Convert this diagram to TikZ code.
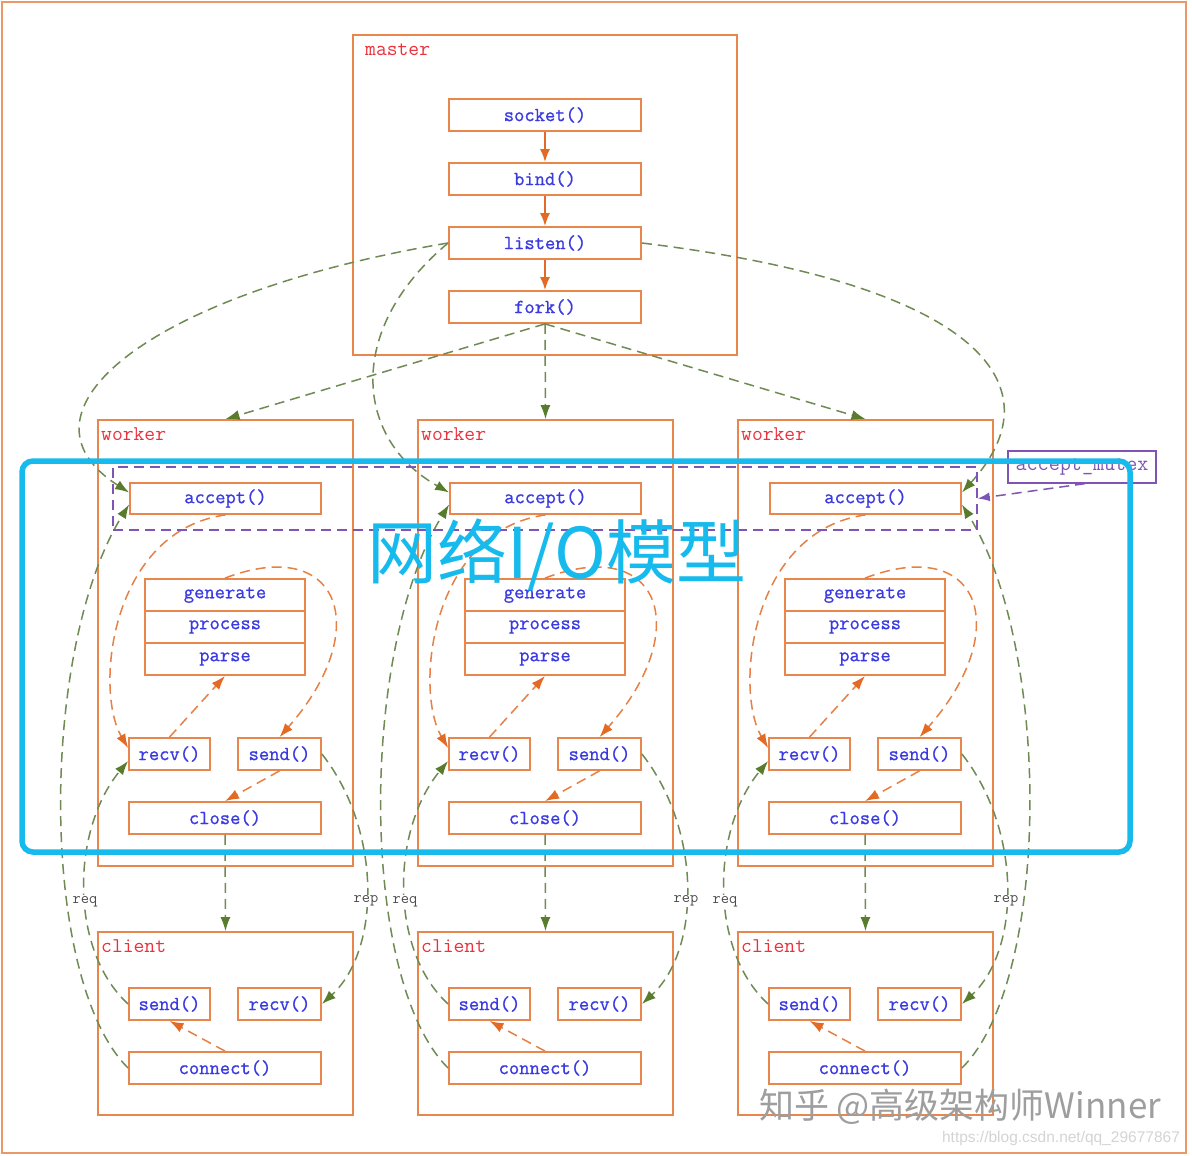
\documentclass[tikz,border=0pt]{standalone}
\usepackage{fontspec}
\newfontfamily\cjk{Noto Sans CJK SC}
\newfontfamily\wmfont{Liberation Sans}
\newfontfamily\fnmono{Latin Modern Mono}[FakeBold=0.9]
\usetikzlibrary{arrows.meta}
\definecolor{boxor}{RGB}{232,134,76}
\definecolor{arror}{RGB}{226,106,36}
\definecolor{gline}{RGB}{112,138,84}
\definecolor{ghead}{RGB}{88,124,44}
\definecolor{lblred}{RGB}{236,48,60}
\definecolor{fnblue}{RGB}{58,58,226}
\definecolor{mpurple}{RGB}{128,84,180}
\definecolor{iocyan}{RGB}{22,186,236}
\newcommand{\myfn}{\fnmono\fontsize{20}{20}\selectfont}
\newcommand{\mylbl}{\fontsize{21}{21}\selectfont\ttfamily}
\newcommand{\myrr}{\fontsize{16}{16}\selectfont\ttfamily}
\tikzset{
  fbox/.style={draw=boxor, line width=1.8pt, inner sep=0pt, font=\myfn, text=fnblue, minimum height=32pt},
  grp/.style={draw=boxor, line width=1.8pt, inner sep=0pt},
  grplbl/.style={anchor=west, inner sep=0pt, text=lblred, font=\mylbl},
  gdash/.style={draw=gline, line width=1.5pt, dash pattern=on 10pt off 6pt, -{Latex[length=14pt,width=10pt,color=ghead]}},
  odash/.style={draw=arror!85, line width=1.5pt, dash pattern=on 10pt off 6pt, -{Latex[length=14pt,width=10pt,color=arror]}},
  osolid/.style={draw=arror, line width=1.8pt, -{Latex[length=13pt,width=10pt]}},
  rlbl/.style={fill=white, inner sep=1pt, font=\myrr, text=black!70},
}
\begin{document}
\begin{tikzpicture}[x=1pt,y=-1pt]
\useasboundingbox (0,0) rectangle (1192,1156);
\fill[white] (0,0) rectangle (1192,1156);
\draw[boxor!85, line width=2.5pt] (2,2) rectangle (1186,1153);

% master
\node[grp, minimum width=384pt, minimum height=320pt] (mst) at (545,195) {};
\node[grplbl] (mstl) at (365,50) {master};
\node[fbox, minimum width=192pt] (sock) at (545,115) {socket()};
\node[fbox, minimum width=192pt] (bnd) at (545,179) {bind()};
\node[fbox, minimum width=192pt] (lis) at (545,243) {listen()};
\node[fbox, minimum width=192pt] (frk) at (545,307) {fork()};
\draw[osolid] (sock.south) -- (bnd.north);
\draw[osolid] (bnd.south) -- (lis.north);
\draw[osolid] (lis.south) -- (frk.north);

% workers and clients
\foreach \i/\dx in {1/0,2/320,3/640}{
  \node[grp, minimum width=255pt, minimum height=446pt] (wk\i) at (\dx+225.5,643) {};
  \node[grplbl] (wkl\i) at (\dx+101,434) {worker};
  \node[fbox, minimum width=191pt, minimum height=31pt] (acc\i) at (\dx+225.5,498.5) {accept()};
  \node[fbox, minimum width=160pt] (gen\i) at (\dx+225,595) {generate};
  \node[fbox, minimum width=160pt] (proc\i) at (\dx+225,627) {process};
  \node[fbox, minimum width=160pt] (pars\i) at (\dx+225,659) {parse};
  \node[fbox, minimum width=81pt] (rec\i) at (\dx+169.5,754) {recv()};
  \node[fbox, minimum width=83pt] (snd\i) at (\dx+279.5,754) {send()};
  \node[fbox, minimum width=192pt] (cls\i) at (\dx+225,818) {close()};
  \node[grp, minimum width=255pt, minimum height=183pt] (cli\i) at (\dx+225.5,1023.5) {};
  \node[grplbl] (clil\i) at (\dx+101,946) {client};
  \node[fbox, minimum width=81pt] (csn\i) at (\dx+169.5,1004) {send()};
  \node[fbox, minimum width=83pt] (crc\i) at (\dx+279.5,1004) {recv()};
  \node[fbox, minimum width=192pt] (con\i) at (\dx+225,1068) {connect()};
  % inner flow
  \draw[odash] (acc\i.south) .. controls +(-115,16) and +(-34,-58) .. ([yshift=6pt]rec\i.west);
  \draw[odash] (rec\i.north) -- (pars\i.south);
  \draw[odash] (gen\i.north) .. controls +(115,-44) and +(95,-108) .. (snd\i.north);
  \draw[odash] (snd\i.south) -- (cls\i.north);
  \draw[odash] (con\i.north) -- (csn\i.south);
  \draw[gdash] (cls\i.south) -- (cli\i.north);
  \draw[gdash] (csn\i.west) .. controls +(-59,-54) and +(-57,69) .. node[rlbl, pos=0.45] {req} ([yshift=-7pt]rec\i.west);
  \draw[gdash] (snd\i.east) .. controls +(60,76) and +(59,-54) .. node[rlbl, pos=0.55] {rep} (crc\i.east);
}

% connect -> accept
\draw[gdash] (con1.west) .. controls +(-89,-88) and +(-90,145) .. ([yshift=-6pt]acc1.west);
\draw[gdash] (con2.west) .. controls +(-89,-88) and +(-90,145) .. ([yshift=-6pt]acc2.west);
\draw[gdash] (con3.east) .. controls +(89,-88) and +(90,145) .. ([yshift=-6pt]acc3.east);

% fork -> workers
\draw[gdash] (frk.south) -- (wk1.north);
\draw[gdash] (frk.south) -- (wk2.north);
\draw[gdash] (frk.south) -- (wk3.north);

% listen -> accept
\draw[gdash] (lis.west) .. controls +(-300,50) and +(-125,-80) .. ([yshift=6pt]acc1.west);
\draw[gdash] (lis.west) .. controls +(-104,87) and +(-94,-53) .. ([yshift=6pt]acc2.west);
\draw[gdash] (lis.east) .. controls +(330,40) and +(100,-110) .. ([yshift=6pt]acc3.east);

% accept mutex
\node[draw=mpurple, line width=1.5pt, dash pattern=on 10pt off 6pt, minimum width=864pt, minimum height=63pt, inner sep=0pt] (mtxa) at (545,498.5) {};
\node[draw=mpurple, line width=1.3pt, minimum width=148pt, minimum height=32pt, inner sep=0pt, text=mpurple, font=\fontsize{21.5}{21.5}\selectfont\ttfamily] (mtx) at (1082,467) {accept\_mutex};
\draw[draw=mpurple, line width=1.5pt, dash pattern=on 10pt off 6pt, -{Latex[length=12pt,width=9pt]}] ([xshift=3pt]mtx.south) -- (mtxa.east);

% overlay
\draw[iocyan, line width=5.5pt, rounded corners=11pt] (22,461) rectangle (1130,852);
\node[text=iocyan, font=\cjk\fontsize{70}{70}\selectfont, inner sep=0pt] (ttl) at (557,555) {网络I/O模型};

% watermark
\node[text=black!38, font=\cjk\fontsize{35}{35}\selectfont, inner sep=0pt] (wm) at (960,1107) {知乎 @高级架构师Winner};
\node[text=black!17, font=\wmfont\fontsize{15.5}{15.5}\selectfont, inner sep=0pt] (url) at (1061,1138) {https://blog.csdn.net/qq\_29677867};
\end{tikzpicture}
\end{document}
